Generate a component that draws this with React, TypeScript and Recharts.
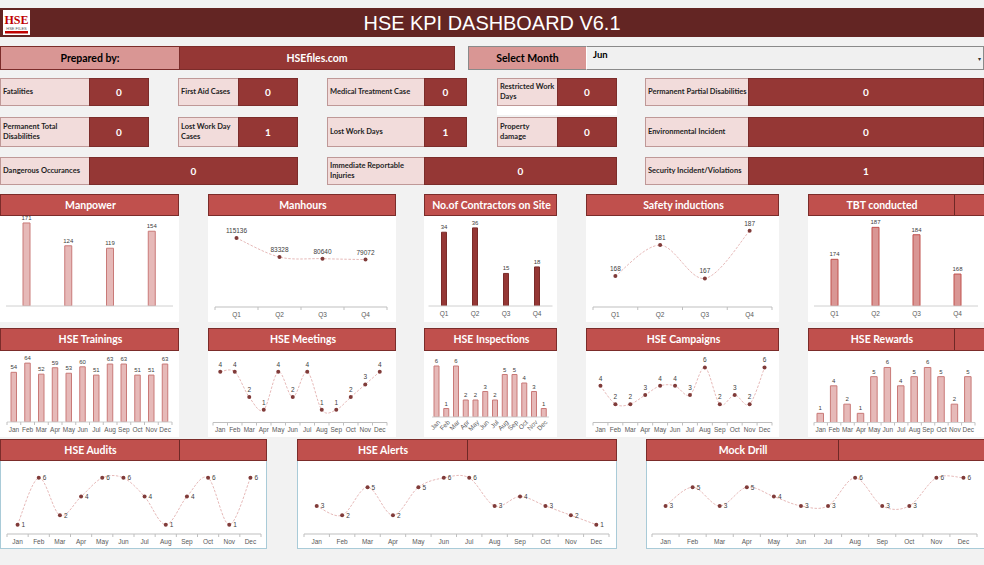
import React from 'react';
import { BarChart, Bar, LineChart, Line, XAxis, YAxis, LabelList } from 'recharts';

// categories
const quarters = ['Q1', 'Q2', 'Q3', 'Q4'];
const months = ['Jan', 'Feb', 'Mar', 'Apr', 'May', 'Jun', 'Jul', 'Aug', 'Sep', 'Oct', 'Nov', 'Dec'];

// quarterly figures
const manpower = [171, 124, 119, 154];
const manhours = [115136, 83328, 80640, 79072];
const contractors = [34, 36, 15, 18];
const inductions = [168, 181, 167, 187];
const tbtConducted = [174, 187, 184, 168];

// monthly figures
const trainings = [54, 64, 52, 59, 53, 60, 51, 63, 63, 51, 51, 63];
const meetings = [4, 4, 2, 1, 4, 2, 4, 1, 1, 2, 3, 4];
const inspections = [6, 1, 6, 2, 2, 3, 2, 5, 5, 4, 3, 1];
const campaigns = [4, 2, 2, 3, 4, 4, 3, 6, 2, 3, 2, 6];
const rewards = [1, 4, 2, 1, 5, 6, 4, 5, 6, 5, 2, 5];
const audits = [1, 6, 2, 4, 6, 6, 4, 1, 4, 6, 1, 6];
const alerts = [3, 2, 5, 2, 5, 6, 6, 3, 4, 3, 2, 1];
const mockDrills = [3, 5, 3, 5, 4, 3, 3, 6, 3, 3, 6, 6];

// incident counters
const kpiNames = [
  'Fatalities', 'First Aid Cases', 'Medical Treatment Case', 'Restricted Work\nDays', 'Permanent Partial Disabilities',
  'Permanent Total\nDisabilities', 'Lost Work Day\nCases', 'Lost Work Days', 'Property\ndamage', 'Environmental Incident',
  'Dangerous Occurances', 'Immediate Reportable\nInjuries', 'Security Incident/Violations',
];
const kpiCounts = [0, 0, 0, 0, 0, 0, 1, 1, 0, 0, 0, 0, 1];

const preparedBy = 'HSEfiles.com';
const selectedMonth = 'Jun';

// [left, split, right, top, height] for each counter cell
const kpiCells = [
  [0, 89, 149, 78, 28], [178, 238, 298, 78, 28], [327, 424, 467, 78, 28], [497, 557, 617, 78, 28], [645, 748, 984, 78, 28],
  [0, 89, 149, 117, 30], [178, 238, 298, 117, 30], [327, 424, 467, 117, 30], [497, 557, 617, 117, 30], [645, 748, 984, 117, 30],
  [0, 89, 298, 157, 28], [327, 424, 617, 157, 28], [645, 748, 984, 157, 28],
];

const uiFont = 'Lato, "Open Sans", sans-serif';
const chartFont = '"Liberation Sans", Arial, sans-serif';

// Excel-style smoothed line (Catmull-Rom through every point)
const excelCurve = (context: any) => {
  let pts: number[][] = [];
  return {
    areaStart() {},
    areaEnd() {},
    lineStart() { pts = []; },
    point(x: number, y: number) { pts.push([+x, +y]); },
    lineEnd() {
      const n = pts.length;
      if (!n) return;
      context.moveTo(pts[0][0], pts[0][1]);
      for (let i = 0; i < n - 1; i++) {
        const p0 = pts[Math.max(i - 1, 0)];
        const p1 = pts[i];
        const p2 = pts[i + 1];
        const p3 = pts[Math.min(i + 2, n - 1)];
        context.bezierCurveTo(
          p1[0] + (p2[0] - p0[0]) / 6, p1[1] + (p2[1] - p0[1]) / 6,
          p2[0] - (p3[0] - p1[0]) / 6, p2[1] - (p3[1] - p1[1]) / 6,
          p2[0], p2[1],
        );
      }
    },
  };
};

function CatTick(props: any) {
  const { x, y, payload, index, bw, n, marks, rotate, hideText, size } = props;
  return (
    <g>
      {marks && <line x1={x - bw / 2} x2={x - bw / 2} y1={y} y2={y + 3} stroke="#bfbfbf" />}
      {marks && index === n - 1 && <line x1={x + bw / 2} x2={x + bw / 2} y1={y} y2={y + 3} stroke="#bfbfbf" />}
      {!hideText && (rotate ? (
        <text x={x + 2} y={y + 4} transform={`rotate(-45 ${x + 2} ${y + 4})`} textAnchor="end" dominantBaseline="central"
          fontSize={size} fontFamily={chartFont} fill="#595959">{payload.value}</text>
      ) : (
        <text x={x} y={y + 9.5} textAnchor="middle" fontSize={size} fontFamily={chartFont} fill="#595959">{payload.value}</text>
      ))}
    </g>
  );
}

type Spec = {
  x: number; top: number; w: number; h: number;
  axis: [number, number]; axisY: number; plotTop: number;
  domain: [number, number]; tickCount: number;
  cats: string[]; values: number[];
};

function BarPanel(p: Spec & { barSize: number; fill: string; stroke: string; marks?: boolean; rotate?: boolean; hideText?: boolean }) {
  const data = p.cats.map((c, i) => ({ c, v: p.values[i] }));
  const bw = (p.axis[1] - p.axis[0]) / p.cats.length;
  return (
    <div style={{ position: 'absolute', left: p.x, top: p.top, width: p.w, height: p.h }}>
      <BarChart width={p.w} height={p.h} data={data}
        margin={{ top: p.plotTop - p.top, left: p.axis[0] - p.x, right: p.x + p.w - p.axis[1], bottom: 0 }}>
        <XAxis dataKey="c" height={p.top + p.h - p.axisY} interval={0} tickLine={false} tickSize={0} tickMargin={0}
          axisLine={{ stroke: '#d0d0d0' }}
          tick={<CatTick bw={bw} n={p.cats.length} marks={p.marks} rotate={p.rotate} hideText={p.hideText} size={6.5} />} />
        <YAxis hide domain={p.domain} tickCount={p.tickCount} allowDataOverflow />
        <Bar dataKey="v" fill={p.fill} stroke={p.stroke} strokeWidth={1} barSize={p.barSize} isAnimationActive={false}>
          <LabelList dataKey="v" position="top" offset={3} fontSize={6} fontFamily={chartFont} fill="#404040" />
        </Bar>
      </BarChart>
    </div>
  );
}

function LinePanel(p: Spec & { labelPos: 'top' | 'right' }) {
  const data = p.cats.map((c, i) => ({ c, v: p.values[i] }));
  const bw = (p.axis[1] - p.axis[0]) / p.cats.length;
  return (
    <div style={{ position: 'absolute', left: p.x, top: p.top, width: p.w, height: p.h }}>
      <LineChart width={p.w} height={p.h} data={data}
        margin={{ top: p.plotTop - p.top, left: p.axis[0] - p.x, right: p.x + p.w - p.axis[1], bottom: 0 }}>
        <XAxis dataKey="c" height={p.top + p.h - p.axisY} padding={{ left: bw / 2, right: bw / 2 }} interval={0}
          tickLine={false} tickSize={0} tickMargin={0} axisLine={{ stroke: '#bfbfbf' }}
          tick={<CatTick bw={bw} n={p.cats.length} marks size={6.5} />} />
        <YAxis hide domain={p.domain} tickCount={p.tickCount} allowDataOverflow />
        <Line type={excelCurve as any} dataKey="v" stroke="#e6b9b8" strokeWidth={1} strokeDasharray="2.5 1.5"
          dot={{ r: 2, fill: '#803b39', stroke: 'none', strokeDasharray: '0' }} activeDot={false} isAnimationActive={false}>
          <LabelList dataKey="v" position={p.labelPos} offset={p.labelPos === 'right' ? 4 : 5} fontSize={6.5}
            fontFamily={chartFont} fill="#404040" />
        </Line>
      </LineChart>
    </div>
  );
}

function TitleBar({ x, y, w, h, split, label }: { x: number; y: number; w: number; h: number; split?: number; label: string }) {
  const textW = split ? split - x : w;
  return (
    <div style={{ position: 'absolute', left: x, top: y, width: w, height: h, boxSizing: 'border-box',
      background: '#c0504d', border: '1px solid #7b2c2a', zIndex: 2 }}>
      <div style={{ position: 'absolute', left: 0, top: 0, width: textW, height: h - 2, lineHeight: `${h - 2}px`,
        textAlign: 'center', color: '#fff', fontFamily: uiFont, fontWeight: 700, fontSize: 10.5 }}>{label}</div>
      {split && <div style={{ position: 'absolute', left: split - x - 1, top: 0, width: 1, height: h - 2, background: '#6e2826' }} />}
    </div>
  );
}

function Body({ x, y, w, h, framed }: { x: number; y: number; w: number; h: number; framed?: boolean }) {
  return (
    <div style={{ position: 'absolute', left: x, top: y, width: w, height: h, boxSizing: 'border-box', background: '#fff',
      border: framed ? '1px solid #a9cbd8' : 'none', borderTop: 'none' }} />
  );
}

export default function App() {
  const r1 = { top: 216, h: 106 };
  const r2 = { top: 351, h: 86 };
  const r3 = { top: 461, h: 88 };
  return (
    <div style={{ position: 'relative', width: 984, height: 565, background: '#f2f2f2', overflow: 'hidden', fontFamily: uiFont }}>
      <style>{'body{margin:0}'}</style>

      {/* header */}
      <div style={{ position: 'absolute', left: 0, top: 8, width: 984, height: 29, background: '#632523' }}>
        <svg width={984} height={29} style={{ position: 'absolute', left: 0, top: 0 }}>
          <text x={492} y={22} textAnchor="middle" fill="#fff" fontSize={21}
            fontFamily='"Liberation Sans Narrow", "Liberation Sans", Arial, sans-serif' textLength={257}
            lengthAdjust="spacingAndGlyphs">HSE KPI DASHBOARD V6.1</text>
        </svg>
        {/* logo */}
        <div style={{ position: 'absolute', left: 3, top: 2, width: 27, height: 25, background: '#fff' }}>
          <svg width={27} height={25}>
            <text x={13.5} y={13.5} textAnchor="middle" fill="#c00000" fontSize={12} fontWeight={700}
              fontFamily='"Liberation Serif", serif'>HSE</text>
            <text x={13.5} y={19.5} textAnchor="middle" fill="#555" fontSize={4}
              fontFamily={chartFont}>HSE FILES</text>
            <rect x={2} y={21} width={23} height={2.5} fill="#c00000" />
          </svg>
        </div>
      </div>

      {/* prepared by / month selector */}
      <div style={{ position: 'absolute', left: 0, top: 46, width: 179, height: 24, boxSizing: 'border-box', background: '#d99694',
        border: '1px solid #7b2c2a', borderRight: 'none', textAlign: 'center', lineHeight: '22px', fontWeight: 700, fontSize: 10.5 }}>Prepared by:</div>
      <div style={{ position: 'absolute', left: 179, top: 46, width: 276, height: 24, boxSizing: 'border-box', background: '#953735',
        border: '1px solid #7b2c2a', textAlign: 'center', lineHeight: '22px', fontWeight: 700, fontSize: 10.5, color: '#fff' }}>{preparedBy}</div>
      <div style={{ position: 'absolute', left: 468, top: 46, width: 118, height: 24, boxSizing: 'border-box', background: '#d99694',
        border: '1px solid #8a8a8a', borderRight: 'none', textAlign: 'center', lineHeight: '22px', fontWeight: 700, fontSize: 10.5 }}>Select Month</div>
      <div style={{ position: 'absolute', left: 586, top: 46, width: 398, height: 24, boxSizing: 'border-box', background: '#f0f0f0',
        border: '1px solid #8a8a8a', borderLeft: '1px solid #fff' }}>
        <div style={{ position: 'absolute', left: 6, top: 2, fontWeight: 700, fontSize: 9.5 }}>{selectedMonth}</div>
        <div style={{ position: 'absolute', right: 2, top: 8, fontSize: 6, color: '#333' }}>▾</div>
      </div>

      {/* incident counters */}
      <div style={{ position: 'absolute', left: 497, top: 106, width: 120, height: 9, background: '#fff' }} />
      {kpiCells.map(([l, s, e, t, h], i) => (
        <React.Fragment key={i}>
          <div style={{ position: 'absolute', left: l, top: t, width: s - l, height: h, boxSizing: 'border-box', background: '#f2dcdb',
            border: '1px solid #bf9897', borderRight: 'none', display: 'flex', alignItems: 'center', paddingLeft: 2,
            whiteSpace: 'pre-line', fontWeight: 700, fontSize: 7.5, lineHeight: '10px', color: '#1f1f1f' }}>{kpiNames[i]}</div>
          <div style={{ position: 'absolute', left: s, top: t, width: e - s, height: h, boxSizing: 'border-box', background: '#953735',
            border: '1px solid #7b2c2a', textAlign: 'center', lineHeight: `${h - 2}px`, fontWeight: 700, fontSize: 10, color: '#fff' }}>{kpiCounts[i]}</div>
        </React.Fragment>
      ))}

      {/* panel backgrounds */}
      {[[0, 179], [208, 188], [424, 133], [586, 193], [808, 176]].map(([x, w]) => (
        <React.Fragment key={x}>
          <Body x={x} y={r1.top} w={w} h={r1.h} />
          <Body x={x} y={r2.top} w={w} h={r2.h} />
        </React.Fragment>
      ))}
      <Body x={0} y={r3.top} w={267} h={r3.h} framed />
      <Body x={297} y={r3.top} w={320} h={r3.h} framed />
      <Body x={646} y={r3.top} w={340} h={r3.h} framed />

      {/* quarterly charts */}
      <BarPanel x={0} {...r1} w={179} axis={[6, 173]} axisY={306} plotTop={218.6} domain={[0, 180]} tickCount={10}
        cats={quarters} values={manpower} barSize={7} fill="#e6b9b8" stroke="#c97a78" hideText />
      <LinePanel x={208} {...r1} w={188} axis={[215, 387]} axisY={307} plotTop={223.1} domain={[0, 140000]} tickCount={8}
        cats={quarters} values={manhours} labelPos="top" />
      <BarPanel x={424} {...r1} w={133} axis={[428.5, 552.5]} axisY={306} plotTop={219.2} domain={[0, 40]} tickCount={5}
        cats={quarters} values={contractors} barSize={5} fill="#953735" stroke="#7b2c2a" />
      <LinePanel x={586} {...r1} w={193} axis={[593, 772]} axisY={307} plotTop={223.7} domain={[155, 190]} tickCount={8}
        cats={quarters} values={inductions} labelPos="top" />
      <BarPanel x={808} {...r1} w={176} axis={[814, 978]} axisY={306} plotTop={220} domain={[155, 190]} tickCount={8}
        cats={quarters} values={tbtConducted} barSize={7} fill="#d99694" stroke="#c0504d" />

      {/* monthly charts */}
      <BarPanel x={0} {...r2} w={179} axis={[7, 172]} axisY={422} plotTop={357.6} domain={[0, 70]} tickCount={8}
        cats={months} values={trainings} barSize={5.5} fill="#e6b9b8" stroke="#c97a78" marks />
      <LinePanel x={208} {...r2} w={188} axis={[213, 387]} axisY={422.5} plotTop={365.4} domain={[0, 4.5]} tickCount={10}
        cats={months} values={meetings} labelPos="top" />
      <BarPanel x={424} {...r2} w={133} axis={[432, 549]} axisY={417} plotTop={357.5} domain={[0, 7]} tickCount={8}
        cats={months} values={inspections} barSize={5} fill="#e6b9b8" stroke="#c97a78" rotate />
      <LinePanel x={586} {...r2} w={193} axis={[593, 772]} axisY={422.5} plotTop={358.3} domain={[0, 7]} tickCount={8}
        cats={months} values={campaigns} labelPos="top" />
      <BarPanel x={808} {...r2} w={176} axis={[814, 975]} axisY={422.5} plotTop={358.3} domain={[0, 7]} tickCount={8}
        cats={months} values={rewards} barSize={6.5} fill="#e6b9b8" stroke="#c97a78" marks />

      <LinePanel x={1} {...r3} w={265} axis={[7, 261]} axisY={534} plotTop={468.5} domain={[0, 7]} tickCount={8}
        cats={months} values={audits} labelPos="right" />
      <LinePanel x={298} {...r3} w={318} axis={[304, 609]} axisY={534} plotTop={468.5} domain={[0, 7]} tickCount={8}
        cats={months} values={alerts} labelPos="right" />
      <LinePanel x={647} {...r3} w={336} axis={[652, 977]} axisY={534} plotTop={468.5} domain={[0, 7]} tickCount={8}
        cats={months} values={mockDrills} labelPos="right" />

      {/* panel titles */}
      <TitleBar x={0} y={194} w={179} h={22} label="Manpower" />
      <TitleBar x={208} y={194} w={188} h={22} label="Manhours" />
      <TitleBar x={424} y={194} w={133} h={22} label="No.of Contractors on Site" />
      <TitleBar x={586} y={194} w={193} h={22} label="Safety inductions" />
      <TitleBar x={808} y={194} w={178} h={22} split={954} label="TBT conducted" />

      <TitleBar x={0} y={328} w={179} h={23} label="HSE Trainings" />
      <TitleBar x={208} y={328} w={188} h={23} label="HSE Meetings" />
      <TitleBar x={424} y={328} w={133} h={23} label="HSE Inspections" />
      <TitleBar x={586} y={328} w={193} h={23} label="HSE Campaigns" />
      <TitleBar x={808} y={328} w={178} h={23} split={954} label="HSE Rewards" />

      <TitleBar x={0} y={439} w={267} h={22} split={179} label="HSE Audits" />
      <TitleBar x={297} y={439} w={320} h={22} split={467} label="HSE Alerts" />
      <TitleBar x={646} y={439} w={340} h={22} split={838} label="Mock Drill" />
    </div>
  );
}
